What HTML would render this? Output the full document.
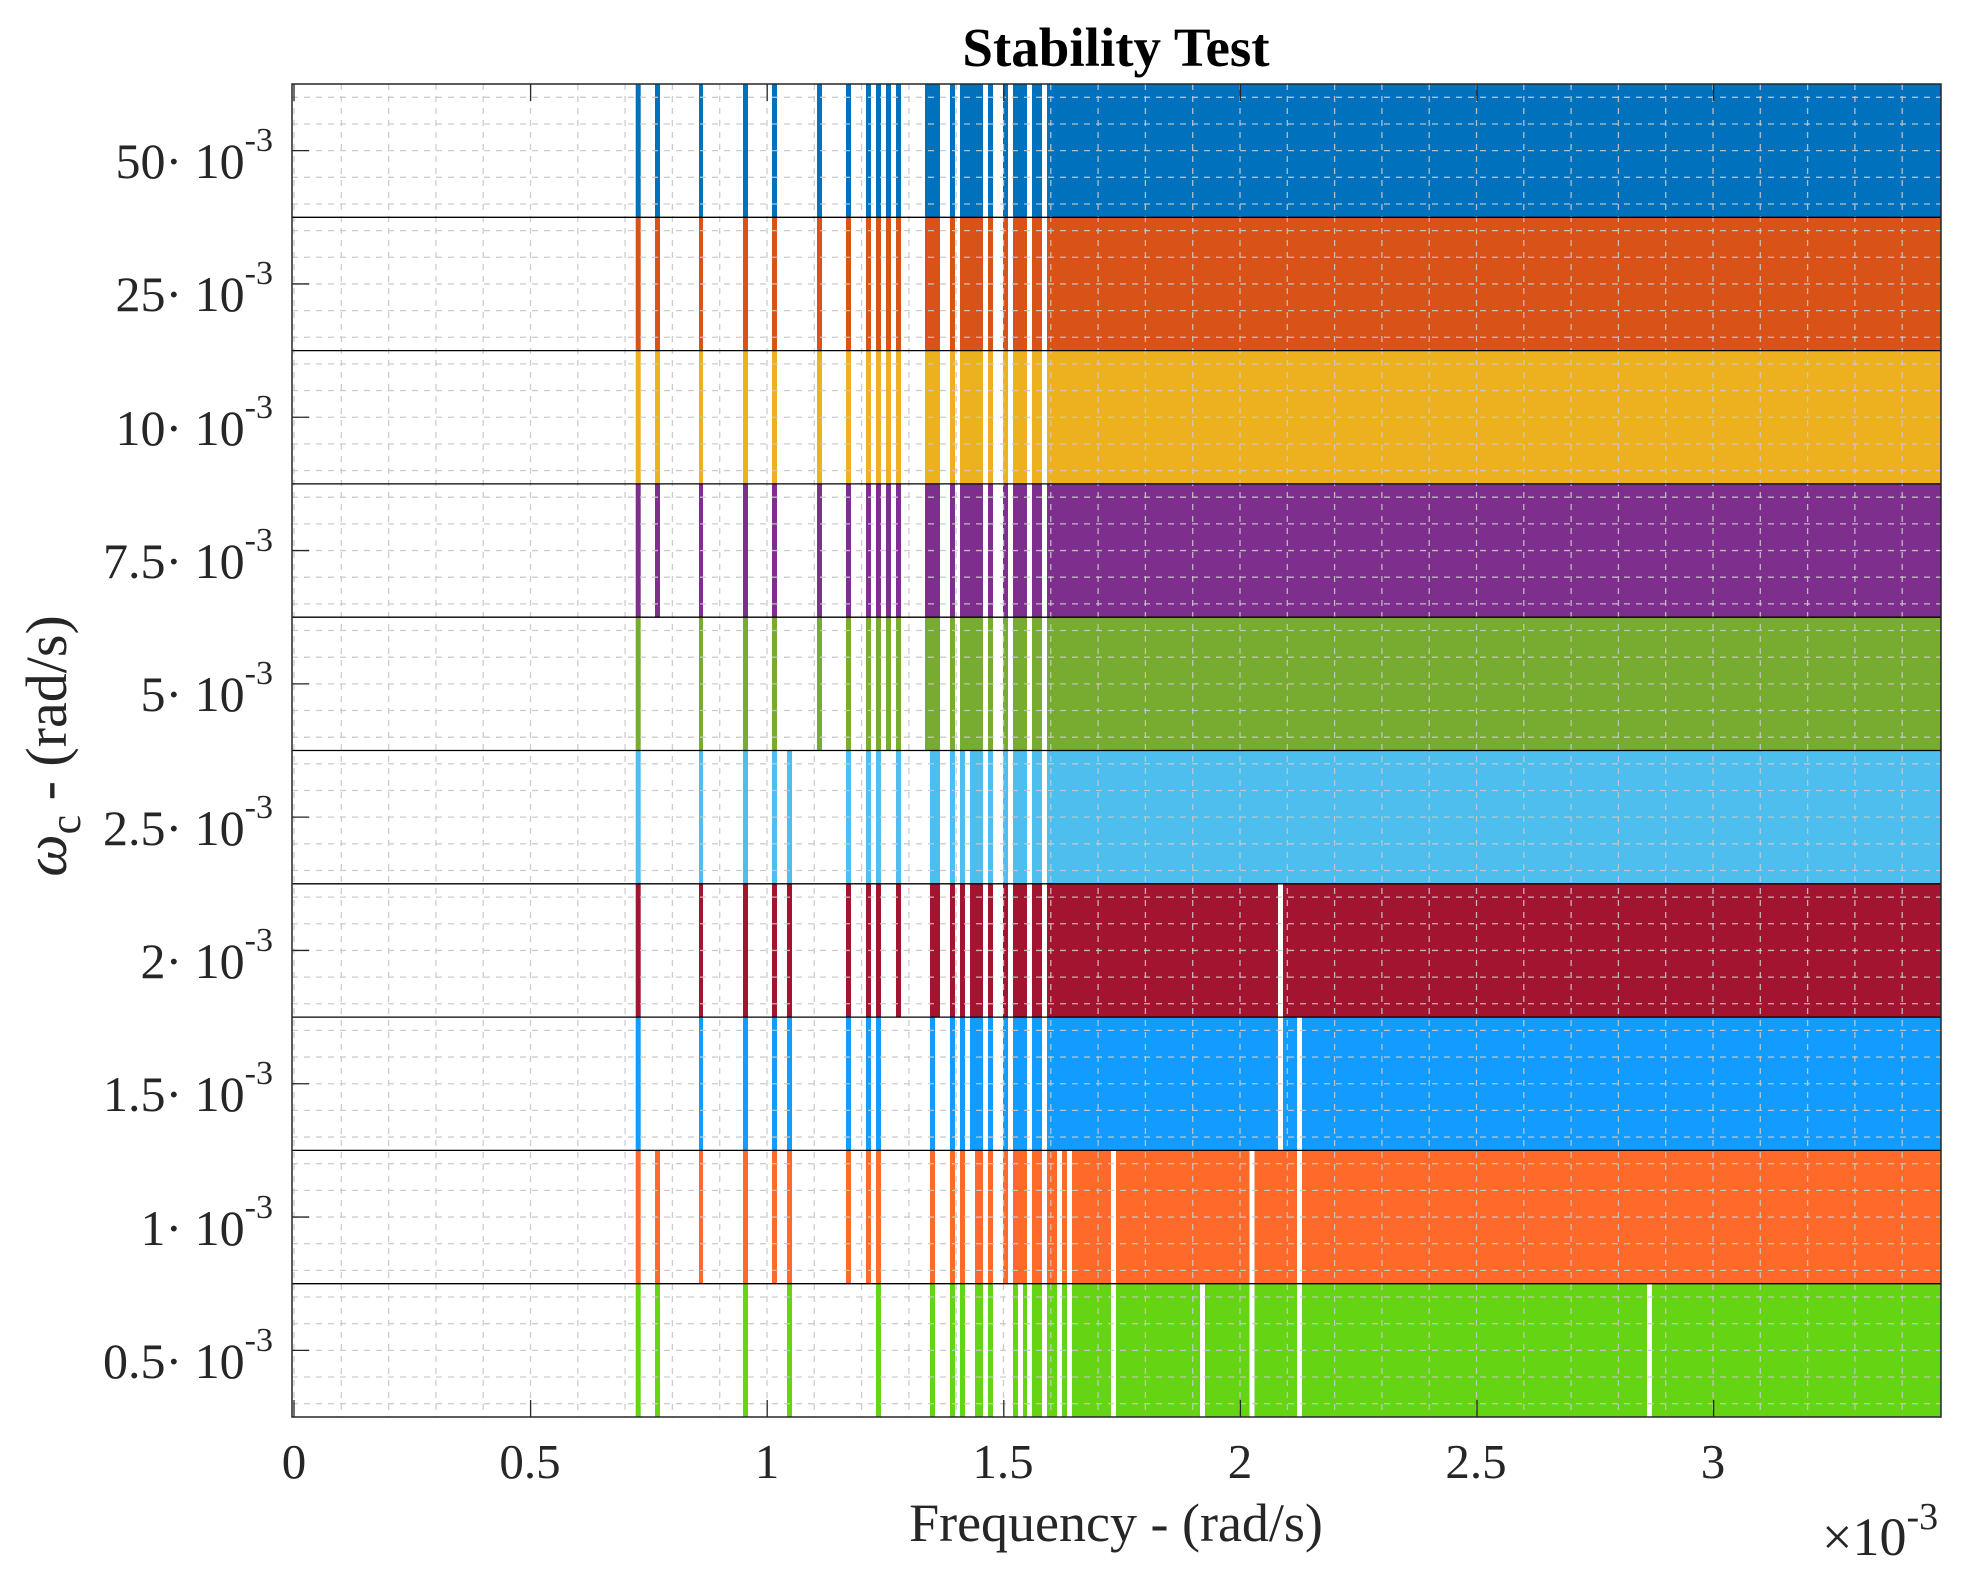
<!DOCTYPE html>
<html><head><meta charset="utf-8"><style>
html,body{margin:0;padding:0;background:#fff;}
svg{display:block;}
text{font-family:"Liberation Serif",serif;fill:#262626;}
</style></head><body>
<svg id="s" width="1986" height="1580" viewBox="0 0 1986 1580" xmlns="http://www.w3.org/2000/svg">
<rect x="0" y="0" width="1986" height="1580" fill="#fff"/>
<g id="bars"></g>
<g id="grid"></g>
<g id="axes"></g>
<text x="1116" y="66" font-size="55" font-weight="bold" text-anchor="middle" style="fill:#000">Stability Test</text>
<g font-size="50" text-anchor="end">
<text x="273" y="178">50· 10<tspan dy="-27" font-size="34">-3</tspan></text>
<text x="273" y="311">25· 10<tspan dy="-27" font-size="34">-3</tspan></text>
<text x="273" y="445">10· 10<tspan dy="-27" font-size="34">-3</tspan></text>
<text x="273" y="578">7.5· 10<tspan dy="-27" font-size="34">-3</tspan></text>
<text x="273" y="711">5· 10<tspan dy="-27" font-size="34">-3</tspan></text>
<text x="273" y="845">2.5· 10<tspan dy="-27" font-size="34">-3</tspan></text>
<text x="273" y="978">2· 10<tspan dy="-27" font-size="34">-3</tspan></text>
<text x="273" y="1111">1.5· 10<tspan dy="-27" font-size="34">-3</tspan></text>
<text x="273" y="1245">1· 10<tspan dy="-27" font-size="34">-3</tspan></text>
<text x="273" y="1378">0.5· 10<tspan dy="-27" font-size="34">-3</tspan></text>
</g>
<g font-size="49" text-anchor="middle">
<text x="294" y="1478">0</text>
<text x="530" y="1478">0.5</text>
<text x="767" y="1478">1</text>
<text x="1003" y="1478">1.5</text>
<text x="1240" y="1478">2</text>
<text x="1476" y="1478">2.5</text>
<text x="1713" y="1478">3</text>
</g>
<text x="1116" y="1541" font-size="54" text-anchor="middle">Frequency - (rad/s)</text>
<text x="1822" y="1555" font-size="54">×10<tspan dy="-26" font-size="38">-3</tspan></text>
<text transform="translate(66,746) rotate(-90)" font-size="58" text-anchor="middle"><tspan font-style="italic" font-size="60">ω</tspan><tspan dy="14" font-size="44">c</tspan><tspan dy="-14"> - (rad/s)</tspan></text>
</svg>
<script>
var NS="http://www.w3.org/2000/svg";
function el(p,t,a){var e=document.createElementNS(NS,t);for(var k in a)e.setAttribute(k,a[k]);p.appendChild(e);return e;}
var L=292,R=1941,T=84,B=1417,H=(B-T)/10;
var cols=["#0072BD","#D95319","#EDB120","#7E2F8E","#77AC30","#4DBEEE","#A2142F","#129CFF","#FF6929","#64D413"];
var A=[[635.7,640.7],[655,660],[699,703],[743,748],[772,777],[817,822],[846,851],[866,871],[876,881],[886,891],[896,901],[925,940],[950,955],[960,983],[988,993],[1003,1008],[1013,1027],[1032,1042],[1047,1941]];
var A5=A.filter(function(b){return b[0]!=655;});
var R6=[[635.7,640.7],[699,703],[743,748],[772,777],[787,792],[846,851],[866,871],[876,881],[896,901],[930,940],[950,955],[960,965],[970,983],[988,993],[1003,1008],[1013,1027],[1032,1042],[1047,1941]];
var R8=[[635.7,640.7],[699,703],[743,748],[772,777],[787,792],[846,851],[866,871],[876,881],[930,935],[950,955],[960,965],[970,983],[988,993],[1003,1008],[1013,1027],[1032,1042],[1047,1941]];
var R9=[[635.7,640.7],[655,660],[699,703],[743,748],[772,777],[787,792],[846,851],[866,871],[876,881],[930,935],[950,955],[960,965],[975,983],[988,993],[1003,1008],[1013,1027],[1032,1042],[1047,1057],[1062,1067],[1072,1941]];
var R10=[[635.7,640.7],[655,660],[743,748],[787,792],[876,881],[930,935],[950,955],[960,965],[975,983],[988,993],[1013,1018],[1023,1027],[1032,1042],[1047,1057],[1062,1067],[1072,1941]];
var rows=[[A,[]],[A,[]],[A,[]],[A,[]],[A5,[]],[R6,[]],[R6,[[1278,1283]]],[R8,[[1278,1283],[1297,1302]]],[R9,[[1111,1116],[1249.5,1254.5],[1297,1302]]],[R10,[[1111,1116],[1200,1205],[1249.5,1254.5],[1297,1302],[1647,1652]]]];
var gb=document.getElementById("bars");
rows.forEach(function(r,i){
  var y=T+i*H;
  r[0].forEach(function(b){el(gb,"rect",{x:b[0],y:y,width:b[1]-b[0],height:H,fill:cols[i]});});
  r[1].forEach(function(b){el(gb,"rect",{x:b[0],y:y,width:b[1]-b[0],height:H,fill:"#fff"});});
});
var gg=document.getElementById("grid");
for(var k=0;k<=35;k++){var x=294+k*47.3;if(x>R-1)break;el(gg,"line",{x1:x,y1:T,x2:x,y2:B,stroke:"#c8c8c8","stroke-width":1.3,"stroke-dasharray":"6,6","stroke-opacity":0.9});}
for(var i=0;i<10;i++){for(var j=0;j<5;j++){var y=T+i*H+13.3+j*26.67;el(gg,"line",{x1:L,y1:y,x2:R,y2:y,stroke:"#c8c8c8","stroke-width":1.3,"stroke-dasharray":"6,6","stroke-opacity":0.9});}}
var ga=document.getElementById("axes");
for(var i=1;i<10;i++){var y=T+i*H;el(ga,"line",{x1:L,y1:y,x2:R,y2:y,stroke:"#000","stroke-width":1.3});}
for(var i=0;i<10;i++){var y=T+i*H+H/2;el(ga,"line",{x1:L,y1:y,x2:L+17,y2:y,stroke:"#262626","stroke-width":1.3});}
for(var k=0;k<=6;k++){var x=294+k*236.6;el(ga,"line",{x1:x,y1:B,x2:x,y2:B-17,stroke:"#262626","stroke-width":1.3});el(ga,"line",{x1:x,y1:T,x2:x,y2:T+17,stroke:"#262626","stroke-width":1.3});}
el(ga,"rect",{x:L,y:T,width:R-L,height:B-T,fill:"none",stroke:"#262626","stroke-width":1.5});
</script>
</body></html>
